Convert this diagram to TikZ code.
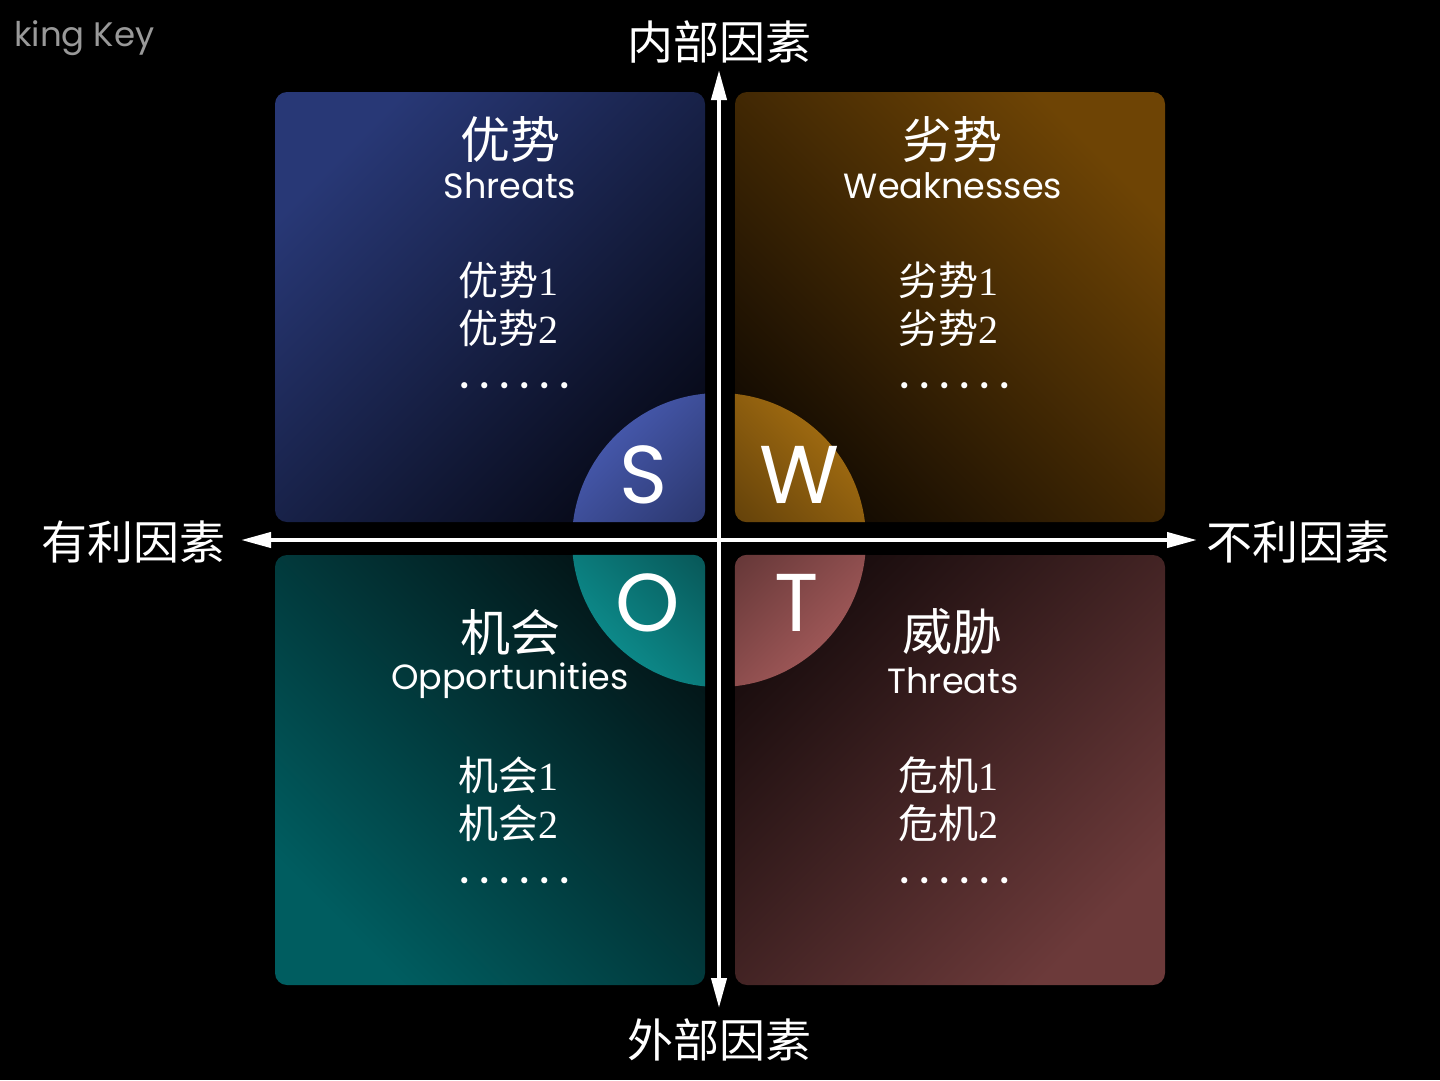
\documentclass[tikz,border=0pt]{standalone}
\usepackage{fontspec}
\setsansfont{Poppins}
\newfontfamily\cjk{Noto Sans CJK SC}
\newfontfamily\digits{Liberation Serif}
\usetikzlibrary{arrows.meta}

\definecolor{sBox}{HTML}{283876}
\definecolor{sDark}{HTML}{080B1B}
\definecolor{sRing}{HTML}{4456A8}
\definecolor{wBox}{HTML}{6E4405}
\definecolor{wDark}{HTML}{150C02}
\definecolor{wRing}{HTML}{9C6810}
\definecolor{oBox}{HTML}{005D60}
\definecolor{oDark}{HTML}{031618}
\definecolor{oRing}{HTML}{0C8888}
\definecolor{tBox}{HTML}{6C3A3A}
\definecolor{tDark}{HTML}{1A0D0E}
\definecolor{tRing}{HTML}{9C5656}

\newcommand{\dotrow}{.\hspace{9.5pt}.\hspace{9.5pt}.\hspace{9.5pt}.\hspace{9.5pt}.\hspace{9.5pt}.}

\tikzset{
  quad/.style={minimum width=430pt, minimum height=430pt, inner sep=0pt,
    rounded corners=12pt},
  axis/.style={white, line width=4pt,
    {Triangle[length=30pt,width=15pt]}-{Triangle[length=30pt,width=15pt]}},
  side/.style={text=white, font=\cjk\fontsize{46}{46}\selectfont},
  title/.style={text=white, font=\cjk\fontsize{50}{50}\selectfont},
  eng/.style={text=white, font=\sffamily\fontsize{35}{35}\selectfont},
  items/.style={text=white, align=center, font=\digits\fontsize{40}{48}\selectfont},
  dots/.style={text=white, font=\sffamily\fontsize{50}{50}\selectfont},
  letter/.style={text=white, font=\sffamily\fontsize{82}{82}\selectfont},
}

\begin{document}
\begin{tikzpicture}[x=1pt, y=1pt]
\useasboundingbox (0,0) rectangle (1440,-1080);
\fill[black] (0,0) rectangle (1440,-1080);

% watermark
\node[anchor=east, text=gray!80, font=\sffamily\fontsize{34}{34}\selectfont]
  (mark) at (158,-38) {king Key};

% the four boxes
\node[quad, top color=sBox, bottom color=sDark, shading angle=45] (S) at (490,-307) {};
\node[quad, top color=wBox, bottom color=wDark, shading angle=-45] (W) at (950,-307) {};
\node[quad, top color=oBox, bottom color=oDark, shading angle=135] (O) at (490,-770) {};
\node[quad, top color=tBox, bottom color=tDark, shading angle=-135] (T) at (950,-770) {};

\coordinate (mid) at (719,-540);

% quarter discs, each cut by its box
\begin{scope}
\clip[rounded corners=12pt] (S.south west) rectangle (S.north east);
\shade[top color=sRing, middle color=sDark, bottom color=sDark, shading angle=45]
  (mid) circle (147pt);
\end{scope}
\begin{scope}
\clip[rounded corners=12pt] (W.south west) rectangle (W.north east);
\shade[top color=wRing, middle color=wDark, bottom color=wDark, shading angle=-45]
  (mid) circle (147pt);
\end{scope}
\begin{scope}
\clip[rounded corners=12pt] (O.south west) rectangle (O.north east);
\shade[top color=oRing, middle color=oDark, bottom color=oDark, shading angle=135]
  (mid) circle (147pt);
\end{scope}
\begin{scope}
\clip[rounded corners=12pt] (T.south west) rectangle (T.north east);
\shade[top color=tRing, middle color=tDark, bottom color=tDark, shading angle=-135]
  (mid) circle (147pt);
\end{scope}

\node[letter] (sL) at (644,-475) {S};
\node[letter] (wL) at (800,-475) {W};
\node[letter] (oL) at (648,-603) {O};
\node[letter] (tL) at (797,-603) {T};

% axes
\node[side] (inner) at (719,-42) {内部因素};
\node[side] (outer) at (719,-1040) {外部因素};
\node[side] (fav) at (133,-542) {有利因素};
\node[side] (unfav) at (1298,-542) {不利因素};
\coordinate (up) at (719,-70);
\coordinate (down) at (719,-1008);
\coordinate (lft) at (241,-540);
\coordinate (rgt) at (1197,-540);
\draw[axis] (up) -- (down);
\draw[axis] (lft) -- (rgt);

% strengths
\node[title] (sT) at (510,-140) {优势};
\node[eng] (sE) at (510,-186) {Shreats};
\node[items] (sI) at (508,-304) {{\cjk 优势}1\\{\cjk 优势}2};
\node[dots] (sD) at (515,-386) {\dotrow};

% weaknesses
\node[title] (wT) at (952,-140) {劣势};
\node[eng] (wE) at (953,-186) {Weaknesses};
\node[items] (wI) at (948,-304) {{\cjk 劣势}1\\{\cjk 劣势}2};
\node[dots] (wD) at (955,-386) {\dotrow};

% opportunities
\node[title] (oT) at (510,-632) {机会};
\node[eng] (oE) at (510,-681) {Opportunities};
\node[items] (oI) at (508,-799) {{\cjk 机会}1\\{\cjk 机会}2};
\node[dots] (oD) at (515,-881) {\dotrow};

% threats
\node[title] (tT) at (952,-632) {威胁};
\node[eng] (tE) at (953,-681) {Threats};
\node[items] (tI) at (948,-799) {{\cjk 危机}1\\{\cjk 危机}2};
\node[dots] (tD) at (955,-881) {\dotrow};
\end{tikzpicture}
\end{document}
